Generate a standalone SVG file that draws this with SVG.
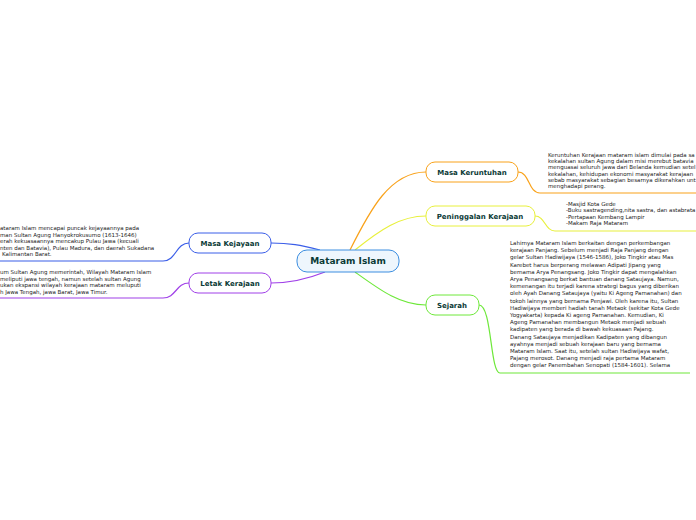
<svg xmlns="http://www.w3.org/2000/svg" width="696" height="520" viewBox="0 0 696 520">
<style>
.n{font-family:"DejaVu Sans",Verdana,sans-serif;font-size:7px;font-weight:bold;fill:#0b3a36;text-anchor:middle}
.t{font-family:"DejaVu Sans",Verdana,sans-serif;font-size:5.5px;fill:#222}
.c{fill:none;stroke-width:1.2}
</style>
<rect width="696" height="520" fill="#fff"/>
<g id="connectors">
<path class="c" stroke="#f9a21a" d="M350,250 C370,210 390,172 426,172"/>
<path class="c" stroke="#e8f03c" d="M355,250 C380,230 400,216 426,216"/>
<path class="c" stroke="#6ee83a" d="M355,272 C380,290 400,305 426,305"/>
<path class="c" stroke="#3b5ee8" d="M320,250 C300,245 290,243 271,243"/>
<path class="c" stroke="#a040e8" d="M325,272 C305,280 290,283 271,283"/>
<path class="c" stroke="#f9a21a" d="M518,172 C530,172 528,193 540,193 L696,193" stroke-width="1.5"/>
<path class="c" stroke="#e8f03c" d="M535,216 C545,216 545,231 555,231 L696,231" stroke-width="1.5"/>
<path class="c" stroke="#6ee83a" d="M479,305 C492,305 490,373 500,373 L690,373" stroke-width="1.5"/>
<path class="c" stroke="#3b5ee8" d="M189,243 C176,243 176,261 163,261 L0,261" stroke-width="1.5"/>
<path class="c" stroke="#a040e8" d="M189,283 C176,283 176,298 163,298 L0,298" stroke-width="1.5"/>
</g>
<g id="central"><rect x="297" y="250" width="102" height="22" rx="10" fill="#eef6fd" stroke="#3c8ee0"/><text class="n" x="348" y="264" style="font-size:9px">Mataram Islam</text></g>
<g id="masa-keruntuhan"><rect x="426" y="162" width="92" height="20" rx="9" fill="#fff" stroke="#f9a21a"/><text class="n" x="472" y="174.5">Masa Keruntuhan</text></g>
<g id="peninggalan"><rect x="426" y="206" width="109" height="20" rx="9" fill="#fff" stroke="#e8f03c"/><text class="n" x="480" y="218.5">Peninggalan Kerajaan</text></g>
<g id="sejarah"><rect x="426" y="295" width="53" height="20" rx="9" fill="#fff" stroke="#6ee83a"/><text class="n" x="452" y="307.5">Sejarah</text></g>
<g id="masa-kejayaan"><rect x="189" y="233" width="82" height="20" rx="9" fill="#fff" stroke="#3b5ee8"/><text class="n" x="230" y="245.5">Masa Kejayaan</text></g>
<g id="letak"><rect x="189" y="273" width="82" height="20" rx="9" fill="#fff" stroke="#a040e8"/><text class="n" x="230" y="285.5">Letak Kerajaan</text></g>
<g id="text-keruntuhan" class="t">
<text x="548" y="157">Keruntuhan Kerajaan mataram islam dimulai pada sa</text>
<text x="548" y="163.2">kekalahan sultan Agung dalam misi merebut batavia</text>
<text x="548" y="169.4">menguasai seluruh jawa dari Belanda kemudian setel</text>
<text x="548" y="175.6">kekalahan, kehidupan ekonomi masyarakat kerajaan</text>
<text x="548" y="181.8">sebab masyarakat sebagian besarnya dikerahkan unt</text>
<text x="548" y="188">menghadapi perang.</text>
</g>
<g id="text-peninggalan" class="t">
<text x="566" y="206">-Masjid Kota Gede</text>
<text x="566" y="212.3">-Buku sastragending,nita sastra, dan astabrata</text>
<text x="566" y="218.6">-Pertapaan Kembang Lampir</text>
<text x="566" y="224.9">-Makam Raja Mataram</text>
</g>
<g id="text-sejarah" class="t">
<text x="510" y="245">Lahirnya Mataram Islam berkaitan dengan perkembangan</text>
<text x="510" y="252.2">kerajaan Panjang. Sebelum menjadi Raja Panjang dengan</text>
<text x="510" y="259.4">gelar Sultan Hadiwijaya (1546-1586), Joko Tingkir atau Mas</text>
<text x="510" y="266.6">Karebet harus berperang melawan Adipati Jipang yang</text>
<text x="510" y="273.8">bernama Arya Penangsang. Joko Tingkir dapat mengalahkan</text>
<text x="510" y="281">Arya Penangsang berkat bantuan danang Sataujaya. Namun,</text>
<text x="510" y="288.2">kemenangan itu terjadi karena strategi bagus yang diberikan</text>
<text x="510" y="295.4">oleh Ayah Danang Sataujaya (yaitu Ki Ageng Pamanahan) dan</text>
<text x="510" y="302.6">tokoh lainnya yang bernama Penjawi. Oleh karena itu, Sultan</text>
<text x="510" y="309.8">Hadiwijaya memberi hadiah tanah Metaok (sekitar Kota Gede</text>
<text x="510" y="317">Yogyakarta) kepada Ki ageng Pamanahan. Kemudian, Ki</text>
<text x="510" y="324.2">Ageng Pamanahan membangun Metaok menjadi sebuah</text>
<text x="510" y="331.4">kadipaten yang berada di bawah kekuasaan Pajang.</text>
<text x="510" y="338.6">Danang Sataujaya menjadikan Kadipaten yang dibangun</text>
<text x="510" y="345.8">ayahnya menjadi sebuah kerajaan baru yang bernama</text>
<text x="510" y="353">Mataram Islam. Saat itu, setelah sultan Hadiwijaya wafat,</text>
<text x="510" y="360.2">Pajang merosot. Danang menjadi raja pertama Mataram</text>
<text x="510" y="367.4">dengan gelar Panembahan Senopati (1584-1601). Selama</text>
<text x="510" y="374.6" visibility="hidden"> </text>
</g>
<g class="t">
<text x="510" y="374.6" visibility="hidden"> </text>
</g>
<g id="text-kejayaan" class="t">
<text x="0" y="230">ataram Islam mencapai puncak kejayaannya pada</text>
<text x="0" y="236.5">man Sultan Agung Hanyokrokusumo (1613-1646)</text>
<text x="0" y="243">erah kekuasaannya mencakup Pulau Jawa (kecuali</text>
<text x="0" y="249.5">nten dan Batavia), Pulau Madura, dan daerah Sukadana</text>
<text x="2" y="256">Kalimantan Barat.</text>
</g>
<g id="text-letak" class="t">
<text x="0" y="274">um Sultan Agung memerintah, Wilayah Mataram Islam</text>
<text x="0" y="280.5">meliputi jawa tengah, namun setelah sultan Agung</text>
<text x="0" y="287">ukan ekspansi wilayah kerajaan mataram meluputi</text>
<text x="0" y="293.5">h Jawa Tengah, jawa Barat, Jawa Timur.</text>
</g>
</svg>
